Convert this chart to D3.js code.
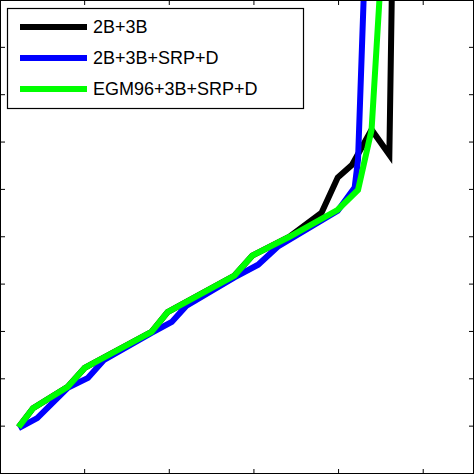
<!DOCTYPE html>
<html><head><script src="https://cdn.jsdelivr.net/npm/d3@7"></script>
<style>body{margin:0}svg{display:block}</style></head>
<body><svg id="c" width="474" height="474"></svg>
<script>
const seriesNames = ["2B+3B", "2B+3B+SRP+D", "EGM96+3B+SRP+D"];
const colors = ["#000000", "#0000ff", "#00ff00"];
const blackX = [0.22,0.39,0.80,1.00,1.79,1.98,2.77,2.98,3.42,3.80,3.99,4.16,4.39,4.60,4.63];
const blackY = [0.98,1.38,1.83,2.23,2.99,3.41,4.18,4.60,5.00,5.51,6.25,6.52,7.26,6.73,10.22];
const blueX = [0.22,0.44,0.80,1.04,1.23,1.79,2.03,2.20,2.77,3.05,3.28,3.99,4.19,4.23,4.30];
const blueY = [0.96,1.17,1.81,2.02,2.40,2.97,3.20,3.54,4.14,4.41,4.79,5.55,6.04,6.63,10.22];
const greenX = [0.22,0.39,0.80,1.00,1.79,1.98,2.77,2.98,3.42,3.99,4.23,4.39,4.49];
const greenY = [0.98,1.38,1.83,2.23,2.99,3.41,4.18,4.60,5.00,5.57,5.99,7.26,10.22];
const xTicks = [1,2,3,4,5];
const yTicks = [1,2,3,4,5,6,7,8,9];

const svg = d3.select("#c");
const x = d3.scaleLinear().domain([0,5.6]).range([0,474]);
const y = d3.scaleLinear().domain([0,10]).range([473.5,0]);
const line = d3.line().x(d=>x(d[0])).y(d=>y(d[1]));
const series = [[blackX,blackY],[blueX,blueY],[greenX,greenY]];
series.forEach((s,i)=>{
  svg.append("path").datum(s[0].map((v,j)=>[v,s[1][j]]))
    .attr("d",line).attr("fill","none").attr("stroke",colors[i])
    .attr("stroke-width",6).attr("stroke-linejoin","miter");
});
// axes with inward ticks
const g = svg.append("g").attr("stroke","#000").attr("stroke-width",1);
const tl = 5;
xTicks.forEach(t=>{
  g.append("line").attr("x1",x(t)).attr("x2",x(t)).attr("y1",474).attr("y2",474-tl);
  g.append("line").attr("x1",x(t)).attr("x2",x(t)).attr("y1",0).attr("y2",tl);
});
yTicks.forEach(t=>{
  g.append("line").attr("x1",0).attr("x2",tl).attr("y1",y(t)).attr("y2",y(t));
  g.append("line").attr("x1",474).attr("x2",474-tl).attr("y1",y(t)).attr("y2",y(t));
});
svg.append("rect").attr("x",0.5).attr("y",0.5).attr("width",473).attr("height",473)
  .attr("fill","none").attr("stroke","#000");
// legend
const lg = svg.append("g");
lg.append("rect").attr("x",7.5).attr("y",8.5).attr("width",296).attr("height",100)
  .attr("fill","#fff").attr("stroke","#000").attr("stroke-width",1.2);
seriesNames.forEach((n,i)=>{
  const yy = 27 + i*31;
  lg.append("line").attr("x1",20).attr("x2",87).attr("y1",yy).attr("y2",yy)
    .attr("stroke",colors[i]).attr("stroke-width",6);
  lg.append("text").attr("x",93).attr("y",yy+6).text(n)
    .attr("font-family","Liberation Sans, Arial, sans-serif").attr("font-size",18);
});
</script></body></html>
